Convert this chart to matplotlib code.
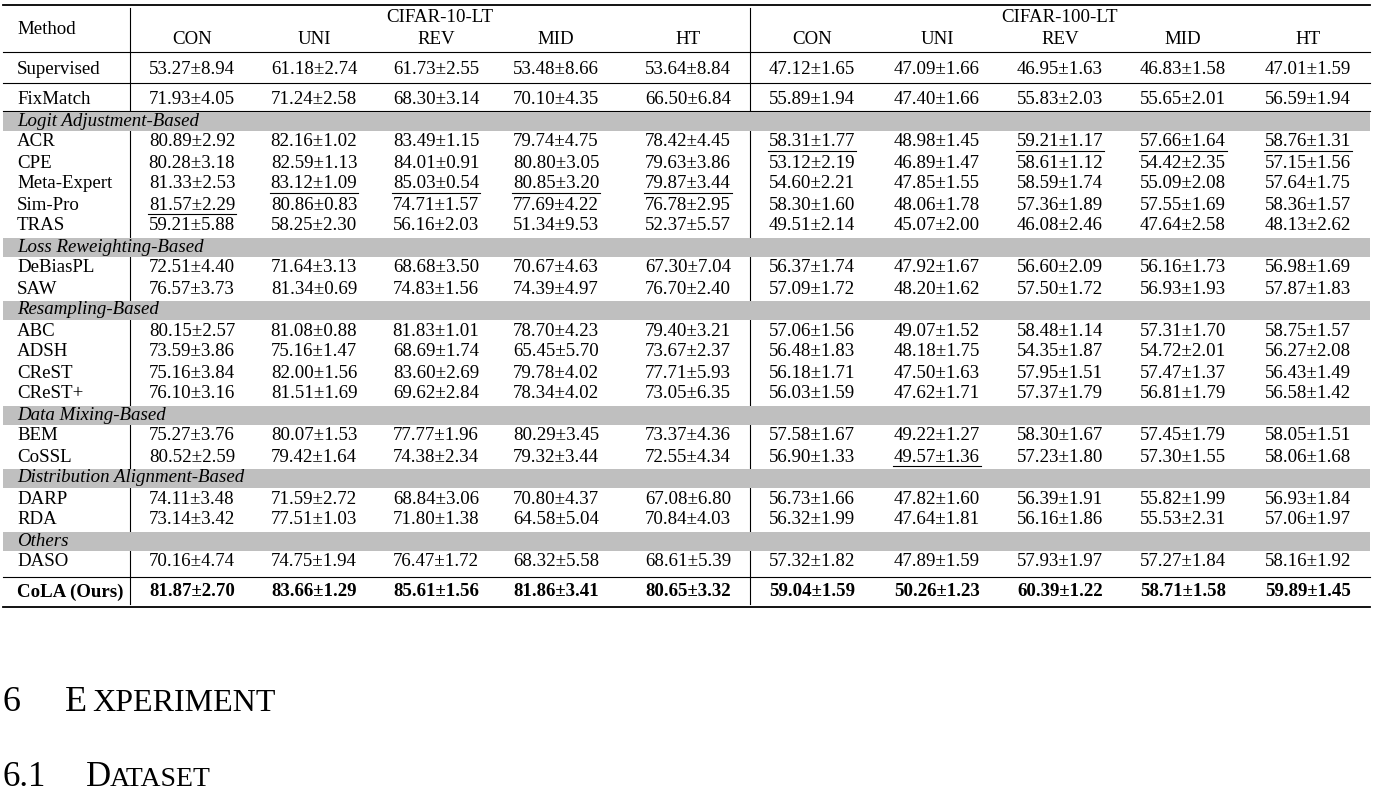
import matplotlib
matplotlib.use('Agg')
import matplotlib.pyplot as plt

cols = ["CON", "UNI", "REV", "MID", "HT"]

supervised = ["53.27±8.94", "61.18±2.74", "61.73±2.55", "53.48±8.66", "53.64±8.84",
              "47.12±1.65", "47.09±1.66", "46.95±1.63", "46.83±1.58", "47.01±1.59"]
fixmatch = ["71.93±4.05", "71.24±2.58", "68.30±3.14", "70.10±4.35", "66.50±6.84",
            "55.89±1.94", "47.40±1.66", "55.83±2.03", "55.65±2.01", "56.59±1.94"]

groups = [
    ("Logit Adjustment-Based", [
        ("ACR", ["80.89±2.92", "82.16±1.02", "83.49±1.15", "79.74±4.75", "78.42±4.45",
                 "58.31±1.77", "48.98±1.45", "59.21±1.17", "57.66±1.64", "58.76±1.31"]),
        ("CPE", ["80.28±3.18", "82.59±1.13", "84.01±0.91", "80.80±3.05", "79.63±3.86",
                 "53.12±2.19", "46.89±1.47", "58.61±1.12", "54.42±2.35", "57.15±1.56"]),
        ("Meta-Expert", ["81.33±2.53", "83.12±1.09", "85.03±0.54", "80.85±3.20", "79.87±3.44",
                         "54.60±2.21", "47.85±1.55", "58.59±1.74", "55.09±2.08", "57.64±1.75"]),
        ("Sim-Pro", ["81.57±2.29", "80.86±0.83", "74.71±1.57", "77.69±4.22", "76.78±2.95",
                     "58.30±1.60", "48.06±1.78", "57.36±1.89", "57.55±1.69", "58.36±1.57"]),
        ("TRAS", ["59.21±5.88", "58.25±2.30", "56.16±2.03", "51.34±9.53", "52.37±5.57",
                  "49.51±2.14", "45.07±2.00", "46.08±2.46", "47.64±2.58", "48.13±2.62"]),
    ]),
    ("Loss Reweighting-Based", [
        ("DeBiasPL", ["72.51±4.40", "71.64±3.13", "68.68±3.50", "70.67±4.63", "67.30±7.04",
                      "56.37±1.74", "47.92±1.67", "56.60±2.09", "56.16±1.73", "56.98±1.69"]),
        ("SAW", ["76.57±3.73", "81.34±0.69", "74.83±1.56", "74.39±4.97", "76.70±2.40",
                 "57.09±1.72", "48.20±1.62", "57.50±1.72", "56.93±1.93", "57.87±1.83"]),
    ]),
    ("Resampling-Based", [
        ("ABC", ["80.15±2.57", "81.08±0.88", "81.83±1.01", "78.70±4.23", "79.40±3.21",
                 "57.06±1.56", "49.07±1.52", "58.48±1.14", "57.31±1.70", "58.75±1.57"]),
        ("ADSH", ["73.59±3.86", "75.16±1.47", "68.69±1.74", "65.45±5.70", "73.67±2.37",
                  "56.48±1.83", "48.18±1.75", "54.35±1.87", "54.72±2.01", "56.27±2.08"]),
        ("CReST", ["75.16±3.84", "82.00±1.56", "83.60±2.69", "79.78±4.02", "77.71±5.93",
                   "56.18±1.71", "47.50±1.63", "57.95±1.51", "57.47±1.37", "56.43±1.49"]),
        ("CReST+", ["76.10±3.16", "81.51±1.69", "69.62±2.84", "78.34±4.02", "73.05±6.35",
                    "56.03±1.59", "47.62±1.71", "57.37±1.79", "56.81±1.79", "56.58±1.42"]),
    ]),
    ("Data Mixing-Based", [
        ("BEM", ["75.27±3.76", "80.07±1.53", "77.77±1.96", "80.29±3.45", "73.37±4.36",
                 "57.58±1.67", "49.22±1.27", "58.30±1.67", "57.45±1.79", "58.05±1.51"]),
        ("CoSSL", ["80.52±2.59", "79.42±1.64", "74.38±2.34", "79.32±3.44", "72.55±4.34",
                   "56.90±1.33", "49.57±1.36", "57.23±1.80", "57.30±1.55", "58.06±1.68"]),
    ]),
    ("Distribution Alignment-Based", [
        ("DARP", ["74.11±3.48", "71.59±2.72", "68.84±3.06", "70.80±4.37", "67.08±6.80",
                  "56.73±1.66", "47.82±1.60", "56.39±1.91", "55.82±1.99", "56.93±1.84"]),
        ("RDA", ["73.14±3.42", "77.51±1.03", "71.80±1.38", "64.58±5.04", "70.84±4.03",
                 "56.32±1.99", "47.64±1.81", "56.16±1.86", "55.53±2.31", "57.06±1.97"]),
    ]),
    ("Others", [
        ("DASO", ["70.16±4.74", "74.75±1.94", "76.47±1.72", "68.32±5.58", "68.61±5.39",
                  "57.32±1.82", "47.89±1.59", "57.93±1.97", "57.27±1.84", "58.16±1.92"]),
    ]),
]
cola = ["81.87±2.70", "83.66±1.29", "85.61±1.56", "81.86±3.41", "80.65±3.32",
        "59.04±1.59", "50.26±1.23", "60.39±1.22", "58.71±1.58", "59.89±1.45"]

# second-best cells (row name -> column indices)
underlined = {"ACR": [5, 7, 8, 9], "Meta-Expert": [1, 2, 3, 4], "Sim-Pro": [0], "CoSSL": [6]}

plt.rcParams['font.family'] = ['Liberation Serif', 'DejaVu Serif']
fig = plt.figure(figsize=(13.73, 7.94), dpi=100)
ax = fig.add_axes([0, 0, 1, 1])
ax.set_xlim(0, 1373)
ax.set_ylim(794, 0)
ax.axis('off')

xs = [192, 314, 436, 556, 688, 812, 937, 1060, 1183, 1308]
FS = 13.6
L, R = 3, 1370

def hline(y, lw=0.8):
    ax.plot([L, R], [y, y], color='black', lw=lw)

def row(y, name, vals, bold=False):
    w = 'bold' if bold else 'normal'
    ax.text(17, y, name, fontsize=FS, va='center', ha='left', weight=w)
    for i, (x, v) in enumerate(zip(xs, vals)):
        ax.text(x, y, v, fontsize=FS, va='center', ha='center', weight=w)
        if i in underlined.get(name, []):
            ax.plot([x - 44, x + 44], [y + 9, y + 9], color='black', lw=0.8)

# vertical separators
for vx in (130, 750):
    ax.plot([vx, vx], [8, 604], color='black', lw=0.8, zorder=1)

hline(5, 1.3)
ax.text(17, 29, "Method", fontsize=FS, va='center')
ax.text(440, 18, "CIFAR-10-LT", fontsize=FS, va='center', ha='center')
ax.text(1060, 18, "CIFAR-100-LT", fontsize=FS, va='center', ha='center')
for i, x in enumerate(xs):
    ax.text(x, 40, cols[i % 5], fontsize=FS, va='center', ha='center')
hline(52)
row(69, "Supervised", supervised)
hline(83)
row(99, "FixMatch", fixmatch)
hline(111)

y = 121
for gname, rows in groups:
    ax.add_patch(plt.Rectangle((L, y - 9.5), R - L, 19, color='#bfbfbf', zorder=2, lw=0))
    ax.text(17, y, gname, fontsize=FS, va='center', style='italic', zorder=3)
    y += 21
    for name, vals in rows:
        row(y, name, vals)
        y += 21

hline(577)
row(592, "CoLA (Ours)", cola, bold=True)
hline(607, 1.3)

# section headings in small caps
ax.text(3, 711, "6", fontsize=26, va='baseline')
ax.text(65, 711, "E", fontsize=26, va='baseline')
ax.text(92, 711, "XPERIMENT", fontsize=23, va='baseline')
ax.text(3, 786, "6.1", fontsize=25, va='baseline')
ax.text(86, 786, "D", fontsize=25, va='baseline')
ax.text(110, 786, "ATASET", fontsize=20, va='baseline')

fig.savefig('out.png', dpi=100)
